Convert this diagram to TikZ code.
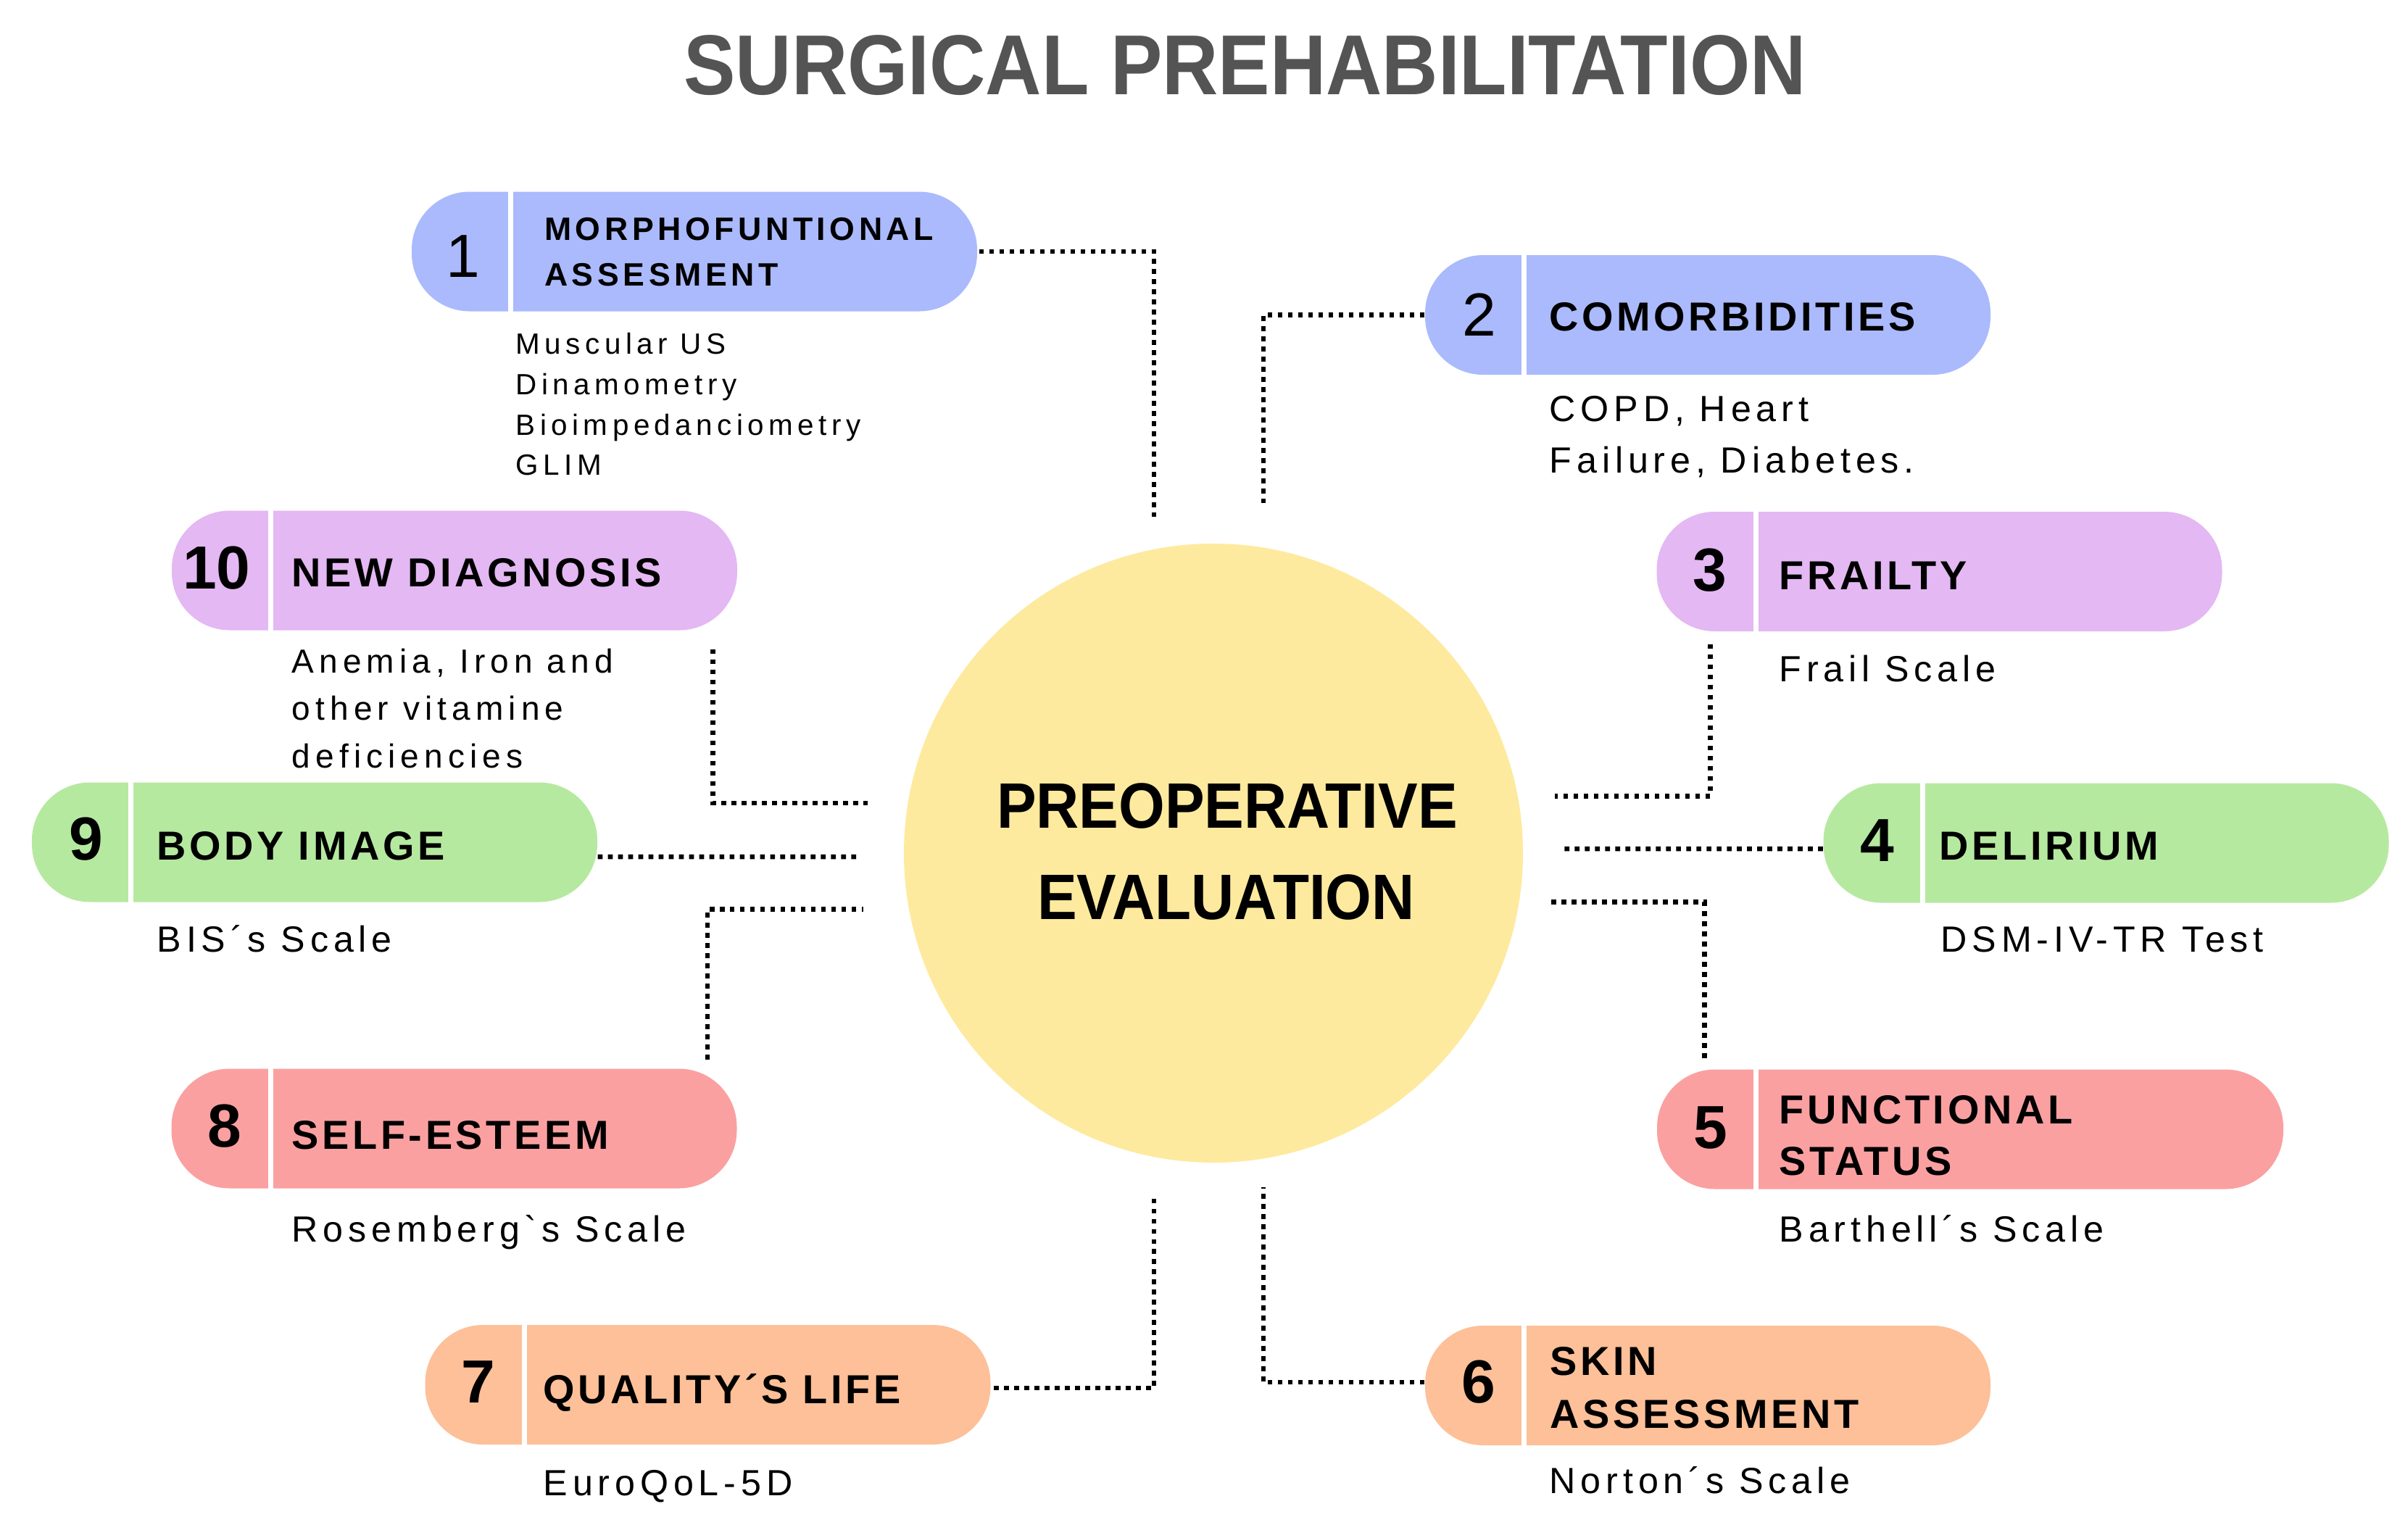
\documentclass[tikz,border=0pt]{standalone}
\usepackage{fontspec}
\usetikzlibrary{calc}
\newfontfamily\titlef[FakeStretch=0.912]{Liberation Sans}
\newfontfamily\centf[FakeStretch=0.925]{Liberation Sans}
\newfontfamily\numf{Liberation Sans}
\newfontfamily\labf[LetterSpace=8.2]{Liberation Sans}
\newfontfamily\labsf[LetterSpace=12.5]{Liberation Sans}
\newfontfamily\subf[LetterSpace=13.6]{Liberation Sans}
\newfontfamily\subaf[LetterSpace=16]{Liberation Sans}
\newfontfamily\subjf[LetterSpace=15.5]{Liberation Sans}
\definecolor{blueC}{RGB}{170,186,252}
\definecolor{lilacC}{RGB}{228,184,243}
\definecolor{greenC}{RGB}{182,233,160}
\definecolor{pinkC}{RGB}{251,160,160}
\definecolor{peachC}{RGB}{253,192,152}
\definecolor{yellowC}{RGB}{254,234,158}
\definecolor{grayT}{RGB}{84,84,84}
\tikzset{
  pill/.style={rectangle, rounded corners=0.8cm, minimum width=7.8cm, minimum height=1.65cm, inner sep=0pt},
  divider/.style={draw=white, line width=0.07cm},
  numtxt/.style={anchor=base, inner sep=0pt, font=\numf\bfseries\fontsize{23.9}{28}\selectfont},
  numthin/.style={anchor=base, inner sep=0pt, font=\numf\fontsize{23.9}{28}\selectfont},
  labtxt/.style={anchor=base west, inner sep=0pt, font=\labf\bfseries\fontsize{15.9}{19}\selectfont},
  labsmall/.style={anchor=base west, inner sep=0pt, font=\labsf\bfseries\fontsize{12.7}{15}\selectfont},
  subtxt/.style={anchor=base west, inner sep=0pt, font=\subf\fontsize{14.3}{17}\selectfont},
  subsmall/.style={anchor=base west, inner sep=0pt, font=\subaf\fontsize{11.5}{14}\selectfont},
  subten/.style={anchor=base west, inner sep=0pt, font=\subjf\fontsize{13.1}{16}\selectfont},
  conn/.style={draw=black, line width=1.85pt, dash pattern=on 1.9pt off 2.08pt},
  titletxt/.style={anchor=base, inner sep=0pt, text=grayT, font=\titlef\bfseries\fontsize{33.4}{40}\selectfont},
  centtxt/.style={anchor=base, inner sep=0pt, font=\centf\bfseries\fontsize{25.2}{30}\selectfont}
}
\begin{document}
\begin{tikzpicture}[x=1cm, y=-1cm]
\useasboundingbox (0,0) rectangle (33.22,20.92);
\fill[white] (0,0) rectangle (33.22,20.92);

% title
\node[titletxt] (title) at (17.175,1.30) {SURGICAL PREHABILITATION};

% central circle
\node[circle, fill=yellowC, minimum size=8.54cm, inner sep=0pt] (center) at (16.74,11.77) {};
\node[centtxt] (ctA) at (16.93,11.42) {PREOPERATIVE};
\node[centtxt] (ctB) at (16.915,12.68) {EVALUATION};

% pills
\node[pill, fill=blueC] (b1) at (9.58,3.47) {};
\node[pill, fill=blueC] (b2) at (23.56,4.345) {};
\node[pill, fill=lilacC] (b3) at (26.755,7.885) {};
\node[pill, fill=greenC] (b4) at (29.055,11.63) {};
\node[pill, fill=pinkC, minimum width=8.64cm] (b5) at (27.18,15.58) {};
\node[pill, fill=peachC] (b6) at (23.56,19.115) {};
\node[pill, fill=peachC] (b7) at (9.765,19.105) {};
\node[pill, fill=pinkC] (b8) at (6.265,15.57) {};
\node[pill, fill=greenC] (b9) at (4.34,11.62) {};
\node[pill, fill=lilacC] (b10) at (6.27,7.87) {};

\foreach \b in {b1,b2,b3,b4,b5,b6,b7,b8,b9,b10}{
  \draw[divider] ([xshift=1.375cm]\b.north west) -- ([xshift=1.375cm]\b.south west);
}

% numbers
\node[numthin] (n1) at (6.39,3.82) {1};
\node[numthin] (n2) at (20.405,4.633) {2};
\node[numtxt] (n3) at (23.59,8.15) {3};
\node[numtxt] (n4) at (25.90,11.88) {4};
\node[numtxt] (n5) at (23.60,15.847) {5};
\node[numtxt] (n6) at (20.40,19.357) {6};
\node[numtxt] (n7) at (6.60,19.357) {7};
\node[numtxt] (n8) at (3.095,15.827) {8};
\node[numtxt] (n9) at (1.184,11.865) {9};
\node[numtxt] (n10) at (2.99,8.12) {10};

% labels
\node[labsmall] (t1a) at (7.505,3.31) {MORPHOFUNTIONAL};
\node[labsmall] (t1b) at (7.505,3.94) {ASSESMENT};
\node[labtxt] (t2) at (21.37,4.56) {COMORBIDITIES};
\node[labtxt] (t3) at (24.54,8.13) {FRAILTY};
\node[labtxt] (t4) at (26.75,11.865) {DELIRIUM};
\node[labtxt] (t5a) at (24.54,15.50) {FUNCTIONAL};
\node[labtxt] (t5b) at (24.54,16.21) {STATUS};
\node[labtxt] (t6a) at (21.375,18.97) {SKIN};
\node[labtxt] (t6b) at (21.375,19.70) {ASSESSMENT};
\node[labtxt] (t7) at (7.49,19.36) {QUALITY´S LIFE};
\node[labtxt] (t8) at (4.02,15.85) {SELF-ESTEEM};
\node[labtxt] (t9) at (2.16,11.865) {BODY IMAGE};
\node[labtxt] (t10) at (4.02,8.09) {NEW DIAGNOSIS};

% sub texts
\node[subsmall] (s1a) at (7.11,4.88) {Muscular US};
\node[subsmall] (s1b) at (7.11,5.44) {Dinamometry};
\node[subsmall] (s1c) at (7.11,6.00) {Bioimpedanciometry};
\node[subsmall] (s1d) at (7.11,6.55) {GLIM};
\node[subtxt] (s2a) at (21.37,5.817) {COPD, Heart};
\node[subtxt] (s2b) at (21.37,6.527) {Failure, Diabetes.};
\node[subtxt] (s3) at (24.54,9.40) {Frail Scale};
\node[subtxt] (s4) at (26.77,13.13) {DSM-IV-TR Test};
\node[subtxt] (s5) at (24.54,17.13) {Barthell´s Scale};
\node[subtxt] (s6) at (21.37,20.60) {Norton´s Scale};
\node[subtxt] (s7) at (7.49,20.63) {EuroQoL-5D};
\node[subtxt] (s8) at (4.02,17.13) {Rosemberg\symbol{96}s Scale};
\node[subtxt] (s9) at (2.16,13.13) {BIS´s Scale};
\node[subten] (s10a) at (4.02,9.285) {Anemia, Iron and};
\node[subten] (s10b) at (4.02,9.93) {other vitamine};
\node[subten] (s10c) at (4.02,10.595) {deficiencies};

% connector free ends
\coordinate (c1) at (15.92,7.13);
\coordinate (c2) at (17.43,7.017);
\coordinate (c3) at (21.45,10.985);
\coordinate (c4) at (21.53,11.71);
\coordinate (c5) at (21.39,12.446);
\coordinate (c6) at (17.43,16.376);
\coordinate (c7) at (15.92,16.52);
\coordinate (c8) at (11.906,12.546);
\coordinate (c9) at (11.84,11.82);
\coordinate (c10) at (11.97,11.08);

% connectors
\draw[conn] ([shift={(0.02,0)}]b1.east) -| (c1);
\draw[conn] (b2.west) -| (c2);
\draw[conn] ([shift={(0.745,0.17)}]b3.south west) |- (c3);
\draw[conn] ([shift={(0,0.08)}]b4.west) -- (c4);
\draw[conn] ([shift={(0.66,-0.15)}]b5.north west) |- (c5);
\draw[conn] ([shift={(0,-0.045)}]b6.west) -| (c6);
\draw[conn] ([shift={(0.04,0.045)}]b7.east) -| (c7);
\draw[conn] ([shift={(-0.41,-0.12)}]b8.north east) |- (c8);
\draw[conn] ([shift={(0,0.2)}]b9.east) -- (c9);
\draw[conn] ([shift={(-0.34,0.255)}]b10.south east) |- (c10);
\end{tikzpicture}
\end{document}
